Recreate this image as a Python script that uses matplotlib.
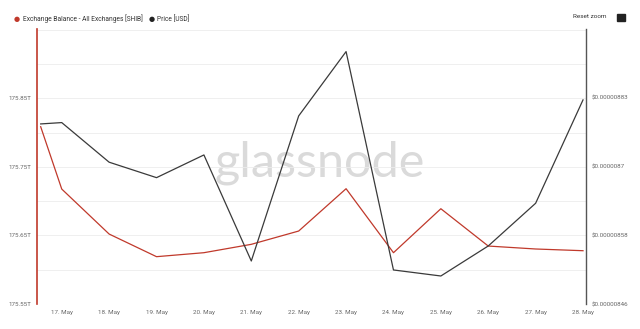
import numpy as np
import pandas as pd
import matplotlib
matplotlib.use("Agg")
from matplotlib import pyplot as plt
import matplotlib.dates as mdates

# data
dates = ["2023-05-16 13:20", "2023-05-17 00:00", "2023-05-18 00:00", "2023-05-19 00:00",
         "2023-05-20 00:00", "2023-05-21 00:00", "2023-05-22 00:00", "2023-05-23 00:00",
         "2023-05-24 00:00", "2023-05-25 00:00", "2023-05-26 00:00", "2023-05-27 00:00",
         "2023-05-28 00:00"]
balance_T = [175.8085, 175.7176, 175.6520, 175.6190, 175.6248, 175.6370, 175.6564,
             175.7181, 175.6248, 175.6889, 175.6345, 175.6302, 175.6277]
price_e6 = [8.7828, 8.7852, 8.7142, 8.6865, 8.7272, 8.5371, 8.7972,
            8.9125, 8.5210, 8.5102, 8.5640, 8.6406, 8.8259]

left_ticks = [175.55, 175.65, 175.75, 175.85]
left_labels = ["175.55T", "175.65T", "175.75T", "175.85T"]
right_ticks = [8.46, 8.5833, 8.7067, 8.83]
right_labels = ["$0.00000846", "$0.00000858", "$0.0000087", "$0.00000883"]

x = pd.to_datetime(dates, format="%Y-%m-%d %H:%M")

red = "#c0392b"
dark = "#3a3a3a"
lab = "#666666"

plt.rcParams['font.family'] = ['Roboto', 'DejaVu Sans']
fig = plt.figure(figsize=(6.4, 3.29), dpi=100)
ax1 = fig.add_axes([0.0578, 0.076, 0.8578, 0.8359])
ax2 = ax1.twinx()

# watermark
ax1.text(0.5155, 0.463, "glassnode", transform=ax1.transAxes, ha="center", va="baseline",
         fontsize=35, color="#dadada", family=["Lato", "DejaVu Sans"], zorder=0)

# grid every 0.05T
for g in np.arange(175.55, 175.951, 0.05):
    ax1.axhline(g, color="#ececec", lw=0.6, zorder=0)

ax1.plot(x, balance_T, color=red, lw=0.9, zorder=3)
ax2.plot(x, price_e6, color=dark, lw=0.9, zorder=3)

x0 = pd.Timestamp("2023-05-16 11:28")
x1 = pd.Timestamp("2023-05-28 01:30")
ax1.set_xlim(x0, x1)
ax1.set_ylim(175.55, 175.951)
ax2.set_ylim(8.46, 8.953)

ax1.set_yticks(left_ticks)
ax1.set_yticklabels(left_labels)
ax2.set_yticks(right_ticks)
ax2.set_yticklabels(right_labels)

ax1.xaxis.set_major_locator(mdates.DayLocator())
ax1.xaxis.set_major_formatter(mdates.DateFormatter("%-d. %b"))

ax1.tick_params(axis="y", length=0, labelsize=4.5, labelcolor=lab, pad=4)
ax2.tick_params(axis="y", length=0, labelsize=4.5, labelcolor=lab, pad=4)
ax1.tick_params(axis="x", length=0, labelsize=4.5, labelcolor=lab, pad=4)

for a in (ax1, ax2):
    a.spines["top"].set_visible(False)
    a.spines["bottom"].set_visible(False)
    a.spines["left"].set_visible(False)
    a.spines["right"].set_visible(False)
ax2.spines["left"].set_visible(True)
ax2.spines["left"].set_color(red)
ax2.spines["left"].set_linewidth(1.2)
ax2.spines["right"].set_visible(True)
ax2.spines["right"].set_color("#555555")
ax2.spines["right"].set_linewidth(1.0)

# legend
fig.text(17 / 640, 1 - 19 / 329, "\u25cf", color=red, fontsize=5, va="center", ha="center")
fig.text(23 / 640, 1 - 19 / 329, "Exchange Balance - All Exchanges [SHIB]", color="#333333",
         fontsize=4.8, va="center")
fig.text(152 / 640, 1 - 19 / 329, "\u25cf", color="#222222", fontsize=5, va="center", ha="center")
fig.text(157 / 640, 1 - 19 / 329, "Price [USD]", color="#333333", fontsize=4.8, va="center")

fig.text(590 / 640, 1 - 17 / 329, "Reset zoom", color="#333333", fontsize=4.6,
         va="center", ha="center")
fig.patches.append(plt.Rectangle((617 / 640, 1 - 21 / 329), 8 / 640, 7 / 329,
                                 transform=fig.transFigure, color="#222222"))

fig.savefig("out.png", dpi=100, facecolor="white")
